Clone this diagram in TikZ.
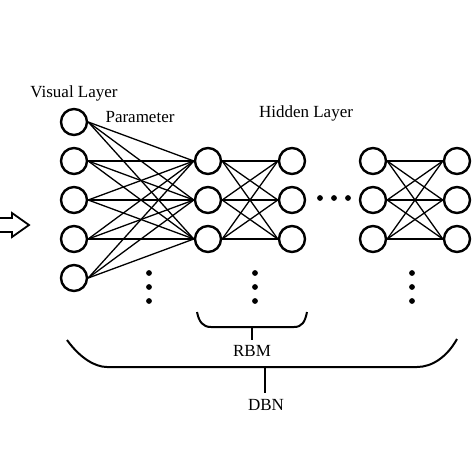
\documentclass[tikz,border=0pt]{standalone}
\usepackage{fontspec}
\setmainfont{Liberation Serif}
\begin{document}
\begin{tikzpicture}
	[
	x=1pt, y=-1pt,
	vn/.style={draw = black, shape = circle, minimum size = 26pt, inner sep = 0pt, line width = 2.4pt},
	wt/.style={line width = 1.3pt},
	lbl/.style={anchor = base, inner sep = 0pt, font = \fontsize{17}{20}\selectfont},
	brace/.style={line width = 2pt}
	]
	\useasboundingbox (0,0) rectangle (474,474);
	
	% Input arrow
	\draw[line width = 1.8pt, line join = miter] (-2,218) -- (12,218) -- (12,213) -- (29,225) -- (12,237) -- (12,232) -- (-2,232) -- cycle;
	
	% Labels
	\node[lbl](visual) at (74,97){Visual Layer};
	\node[lbl](param) at (140,122){Parameter};
	\node[lbl](hidden) at (306,117){Hidden Layer};
	
	% Visual layer
	\node[vn](v1) at (74,122){};
	\node[vn](v2) at (74,161){};
	\node[vn](v3) at (74,200){};
	\node[vn](v4) at (74,239){};
	\node[vn](v5) at (74,278){};
	
	% Hidden layers, from left to right
	\node[vn](a1) at (208,161){};
	\node[vn](a2) at (208,200){};
	\node[vn](a3) at (208,239){};
	\node[vn](b1) at (292,161){};
	\node[vn](b2) at (292,200){};
	\node[vn](b3) at (292,239){};
	\node[vn](c1) at (373,161){};
	\node[vn](c2) at (373,200){};
	\node[vn](c3) at (373,239){};
	\node[vn](d1) at (457,161){};
	\node[vn](d2) at (457,200){};
	\node[vn](d3) at (457,239){};
	
	\draw[wt] (v1.east) -- (a1.west);
	\draw[wt] (v1.east) -- (a2.west);
	\draw[wt] (v1.east) -- (a3.west);
	
	\draw[wt] (v2.east) -- (a1.west);
	\draw[wt] (v2.east) -- (a2.west);
	\draw[wt] (v2.east) -- (a3.west);
	
	\draw[wt] (v3.east) -- (a1.west);
	\draw[wt] (v3.east) -- (a2.west);
	\draw[wt] (v3.east) -- (a3.west);
	
	\draw[wt] (v4.east) -- (a1.west);
	\draw[wt] (v4.east) -- (a2.west);
	\draw[wt] (v4.east) -- (a3.west);
	
	\draw[wt] (v5.east) -- (a1.west);
	\draw[wt] (v5.east) -- (a2.west);
	\draw[wt] (v5.east) -- (a3.west);
	
	\draw[wt] (a1.east) -- (b1.west);
	\draw[wt] (a1.east) -- (b2.west);
	\draw[wt] (a1.east) -- (b3.west);
	\draw[wt] (a2.east) -- (b1.west);
	\draw[wt] (a2.east) -- (b2.west);
	\draw[wt] (a2.east) -- (b3.west);
	\draw[wt] (a3.east) -- (b1.west);
	\draw[wt] (a3.east) -- (b2.west);
	\draw[wt] (a3.east) -- (b3.west);
	
	\draw[wt] (c1.east) -- (d1.west);
	\draw[wt] (c1.east) -- (d2.west);
	\draw[wt] (c1.east) -- (d3.west);
	\draw[wt] (c2.east) -- (d1.west);
	\draw[wt] (c2.east) -- (d2.west);
	\draw[wt] (c2.east) -- (d3.west);
	\draw[wt] (c3.east) -- (d1.west);
	\draw[wt] (c3.east) -- (d2.west);
	\draw[wt] (c3.east) -- (d3.west);
	
	% Dots
	\fill (320,198) circle (2.9) (334,198) circle (2.9) (348,198) circle (2.9);
	\fill (149,273) circle (2.9) (149,287) circle (2.9) (149,301) circle (2.9);
	\fill (255,273) circle (2.9) (255,287) circle (2.9) (255,301) circle (2.9);
	\fill (412,273) circle (2.9) (412,287) circle (2.9) (412,301) circle (2.9);
	
	% Braces
	\draw[brace] (197,312) .. controls (199,322) and (203,327) .. (211,327) -- (294,327) .. controls (302,327) and (305,322) .. (307,312);
	\coordinate(rbmtip) at (252,327);
	\node[lbl](rbm) at (252,356){RBM};
	\draw[brace] (rbmtip) -- (252,340);
	
	\draw[brace] (67,340) .. controls (80,358) and (95,367) .. (107,367) -- (417,367) .. controls (432,367) and (447,357) .. (457,339);
	\coordinate(dbntip) at (265,367);
	\node[lbl](dbn) at (266,410){DBN};
	\draw[brace] (dbntip) -- (265,393);
\end{tikzpicture}
\end{document}
